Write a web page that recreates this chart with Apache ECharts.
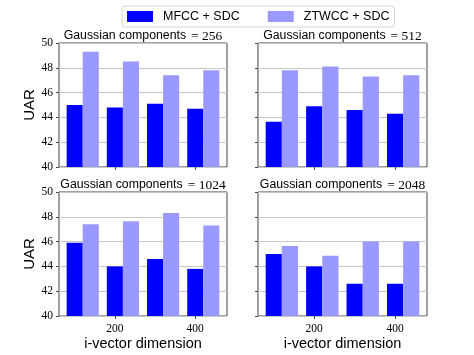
<!DOCTYPE html>
<html>
<head>
<meta charset="utf-8">
<script src="https://cdn.jsdelivr.net/npm/echarts@6/dist/echarts.min.js"></script>
<style>
html,body{margin:0;padding:0;background:#fff;}
#c{width:474px;height:355px;}
</style>
</head>
<body>
<div id="c"></div>
<script>
// i-vector dimensions (x positions of MFCC bars; ZTWCC bars are shifted by one bar width)
const dims = [100, 200, 300, 400];
const xTicks = [200, 400];
const yTicks = [40, 42, 44, 46, 48, 50];
const components = ['256', '512', '1024', '2048'];
const seriesNames = ['MFCC + SDC', 'ZTWCC + SDC'];

const mfcc256  = [45.0, 44.8, 45.1, 44.7];
const ztwcc256 = [49.3, 48.5, 47.4, 47.8];
const mfcc512  = [43.65, 44.9, 44.6, 44.3];
const ztwcc512 = [47.8, 48.1, 47.3, 47.4];
const mfcc1024  = [45.9, 44.0, 44.6, 43.8];
const ztwcc1024 = [47.4, 47.65, 48.3, 47.3];
const mfcc2048  = [45.0, 44.0, 42.6, 42.6];
const ztwcc2048 = [45.65, 44.85, 46.0, 46.0];

const mfccAll = [mfcc256, mfcc512, mfcc1024, mfcc2048];
const ztwccAll = [ztwcc256, ztwcc512, ztwcc1024, ztwcc2048];

const BAR_W = 40;
const colors = ['#0000ff', '#9999ff'];

const grids = [
  {left: 59, top: 43, width: 168, height: 124},
  {left: 258, top: 43, width: 169, height: 124},
  {left: 59, top: 192, width: 168, height: 124},
  {left: 258, top: 192, width: 169, height: 124}
];

const serif = 'Liberation Serif';
const sans = 'Liberation Sans';

const option = {
  animation: false,
  backgroundColor: '#fff',
  legend: {
    top: 6, left: 122,
    data: seriesNames,
    icon: 'rect',
    itemWidth: 26, itemHeight: 11,
    itemGap: 28,
    padding: [4, 5, 4, 5],
    borderColor: '#d6d6d6', borderWidth: 1, borderRadius: 3,
    textStyle: {fontFamily: sans, fontSize: 12.5, color: '#000', padding: [0, 0, 0, 5]}
  },
  title: [],
  grid: grids.map(g => Object.assign({show: true, borderColor: '#444', borderWidth: 1, backgroundColor: 'transparent'}, g)),
  xAxis: [],
  yAxis: [],
  series: []
};

function barRender(offset) {
  return function (params, api) {
    const x = api.value(0) + offset;
    const y = api.value(1);
    const p0 = api.coord([x - BAR_W / 2, y]);
    const p1 = api.coord([x + BAR_W / 2, 40]);
    return {
      type: 'rect',
      shape: {x: p0[0], y: p0[1], width: p1[0] - p0[0], height: p1[1] - p0[1]},
      style: {fill: api.visual('color')}
    };
  };
}

for (let i = 0; i < 4; i++) {
  const g = grids[i];
  const bottomRow = i >= 2;
  const leftCol = i % 2 === 0;
  option.title.push({
    text: '{s|Gaussian components} {m|= ' + components[i] + '}',
    left: g.left + g.width / 2, textAlign: 'center',
    top: g.top - 16,
    padding: 0,
    textStyle: {
      fontWeight: 'normal',
      rich: {
        s: {fontFamily: sans, fontSize: 12.3, color: '#000'},
        m: {fontFamily: serif, fontSize: 13.5, color: '#000'}
      }
    }
  });
  option.xAxis.push({
    type: 'value', gridIndex: i, min: 61, max: 479,
    axisLine: {show: false},
    axisTick: {show: true, customValues: xTicks, length: 3, lineStyle: {color: '#444'}},
    axisLabel: {show: bottomRow, customValues: xTicks, fontFamily: serif, fontSize: 11.5, color: '#000', margin: 7},
    splitLine: {show: false},
    name: bottomRow ? 'i-vector dimension' : '',
    nameLocation: 'middle', nameGap: 20,
    nameTextStyle: {fontFamily: sans, fontSize: 14.5, color: '#000'}
  });
  option.yAxis.push({
    type: 'value', gridIndex: i, min: 40, max: 50, interval: 2,
    axisLine: {show: false},
    axisTick: {show: true, length: 3, lineStyle: {color: '#444'}},
    axisLabel: {show: leftCol, fontFamily: serif, fontSize: 11.5, color: '#000', margin: 6},
    splitLine: {show: true, lineStyle: {color: '#c8c8c8', width: 1}},
    name: leftCol ? 'UAR' : '',
    nameLocation: 'middle', nameGap: 20, nameRotate: 90,
    nameTextStyle: {fontFamily: sans, fontSize: 15, color: '#000'}
  });
  option.series.push({
    name: seriesNames[0], type: 'custom', xAxisIndex: i, yAxisIndex: i,
    itemStyle: {color: colors[0]},
    renderItem: barRender(0),
    data: dims.map((d, k) => [d, mfccAll[i][k]])
  });
  option.series.push({
    name: seriesNames[1], type: 'custom', xAxisIndex: i, yAxisIndex: i,
    itemStyle: {color: colors[1]},
    renderItem: barRender(BAR_W),
    data: dims.map((d, k) => [d, ztwccAll[i][k]])
  });
}

const chart = echarts.init(document.getElementById('c'), null, {renderer: 'canvas'});
chart.setOption(option);
</script>
</body>
</html>
